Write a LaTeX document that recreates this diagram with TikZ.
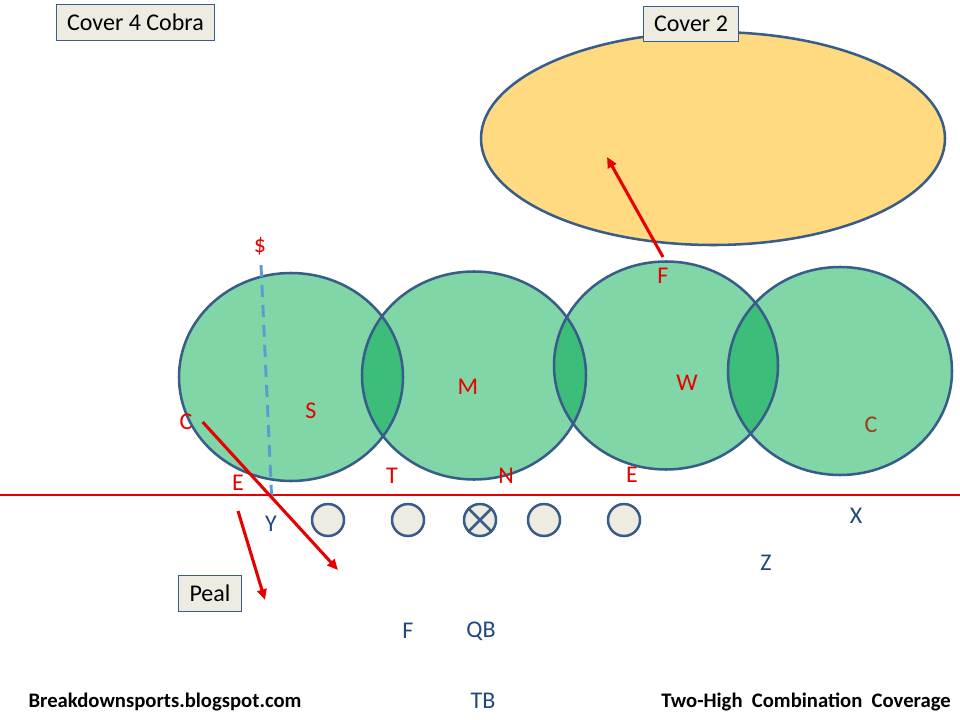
\documentclass[tikz,border=0pt]{standalone}
\usepackage{fontspec}
\setmainfont{Carlito}
\usetikzlibrary{arrows.meta}

\definecolor{zonegreen}{RGB}{128,214,166}
\definecolor{lapgreen}{RGB}{60,190,122}
\definecolor{deepyellow}{RGB}{255,218,128}
\definecolor{edgeblue}{RGB}{56,93,138}
\definecolor{paper}{RGB}{238,236,225}
\definecolor{offblue}{RGB}{31,73,125}
\definecolor{lightblue}{RGB}{91,155,213}
\definecolor{redline}{RGB}{232,0,0}
\definecolor{brownc}{RGB}{150,62,22}

\tikzset{
  rim/.style={draw=edgeblue,line width=1.9pt},
  tag/.style={draw=edgeblue,line width=0.7pt,fill=paper,font=\fontsize{18}{20}\selectfont,inner xsep=8pt,inner ysep=7pt},
  defn/.style={text=redline,font=\fontsize{18}{20}\selectfont,inner sep=0pt},
  offn/.style={text=offblue,font=\fontsize{18}{20}\selectfont,inner sep=0pt},
  lineman/.style={circle,fill=paper,draw=edgeblue,line width=1.9pt,minimum size=24pt,inner sep=0pt},
  route/.style={draw=redline,line width=2.3pt,-{Triangle[length=8pt,width=7pt]}},
  foot/.style={font=\fontsize{15.5}{17}\selectfont\bfseries,inner sep=0pt}
}

\begin{document}
\begin{tikzpicture}[x=0.75pt,y=-0.75pt]
  \useasboundingbox (0,0) rectangle (960,720);

  % deep zone (Cover 2 side)
  \draw[rim,fill=deepyellow] (713,138.5) ellipse [x radius=232, y radius=106.5];

  % underneath zones, left to right
  \foreach \cx/\cy in {291/377, 474/375.5, 666/365.5, 840/371} {
    \fill[zonegreen] (\cx,\cy) ellipse [x radius=112, y radius=104];
  }
  % overlaps
  \foreach \ax/\ay/\bx/\by in {291/377/474/375.5, 474/375.5/666/365.5, 666/365.5/840/371} {
    \begin{scope}
      \clip (\ax,\ay) ellipse [x radius=112, y radius=104];
      \fill[lapgreen] (\bx,\by) ellipse [x radius=112, y radius=104];
    \end{scope}
  }
  \foreach \cx/\cy in {291/377, 474/375.5, 666/365.5, 840/371} {
    \draw[rim] (\cx,\cy) ellipse [x radius=112, y radius=104];
  }

  % line of scrimmage
  \coordinate (losl) at (0,495);
  \coordinate (losr) at (960,495);
  \draw[redline,line width=2.2pt] (losl) -- (losr);

  % title boxes
  \node[tag] (cobra) at (135.5,22.5) {Cover 4 Cobra};
  \node[tag] (twodeep) at (691,24) {Cover 2};
  \node[tag] (peal) at (210,593.5) {Peal};

  % defenders
  \node[defn] (dollar) at (260,246) {\$};
  \node[defn] (ss) at (311,411) {S};
  \node[defn] (mike) at (468,387) {M};
  \node[defn] (will) at (687,383) {W};
  \node[defn,text=brownc] (rc) at (871,425) {C};
  \node[defn] (fs) at (663,276) {F};
  \node[defn] (lc) at (186,422) {C};
  \node[defn] (le) at (238,483) {E};
  \node[defn] (dt) at (392,476) {T};
  \node[defn] (nt) at (506,476) {N};
  \node[defn] (re) at (632,475) {E};

  % offense
  \node[lineman] (lt) at (328,520) {};
  \node[lineman] (lg) at (408,520) {};
  \node[lineman] (oc) at (480,520) {};
  \node[lineman] (rg) at (544,520) {};
  \node[lineman] (rt) at (624,520) {};
  \draw[edgeblue,line width=1.9pt] (oc.north west) -- (oc.south east)
    (oc.north east) -- (oc.south west);
  \node[offn] (yy) at (271,524) {Y};
  \node[offn] (xx) at (856,516) {X};
  \node[offn] (zz) at (766,563) {Z};
  \node[offn] (fb) at (408,631) {F};
  \node[offn] (qb) at (481,631) {QB};
  \node[offn] (tb) at (483,701) {TB};

  % routes and landmarks
  \coordinate (dashtop) at (261,265);
  \coordinate (dashbot) at (272,505);
  \draw[lightblue,line width=2.2pt,dash pattern=on 9pt off 6pt] (dashtop) -- (dashbot);
  \coordinate (cend) at (338,570);
  \coordinate (eend) at (265,600);
  \coordinate (fend) at (607,157);
  \draw[route] ([shift={(10,0)}]lc.east) -- (cend);
  \draw[route] ([shift={(0,20)}]le.south) -- (eend);
  \draw[route] ([shift={(0,-11)}]fs.north) -- (fend);

  % footer
  \node[foot] (site) at (165,702) {Breakdownsports.blogspot.com};
  \node[foot] (title) at (806,702) {Two-High\ \ Combination\ \ Coverage};
\end{tikzpicture}
\end{document}
